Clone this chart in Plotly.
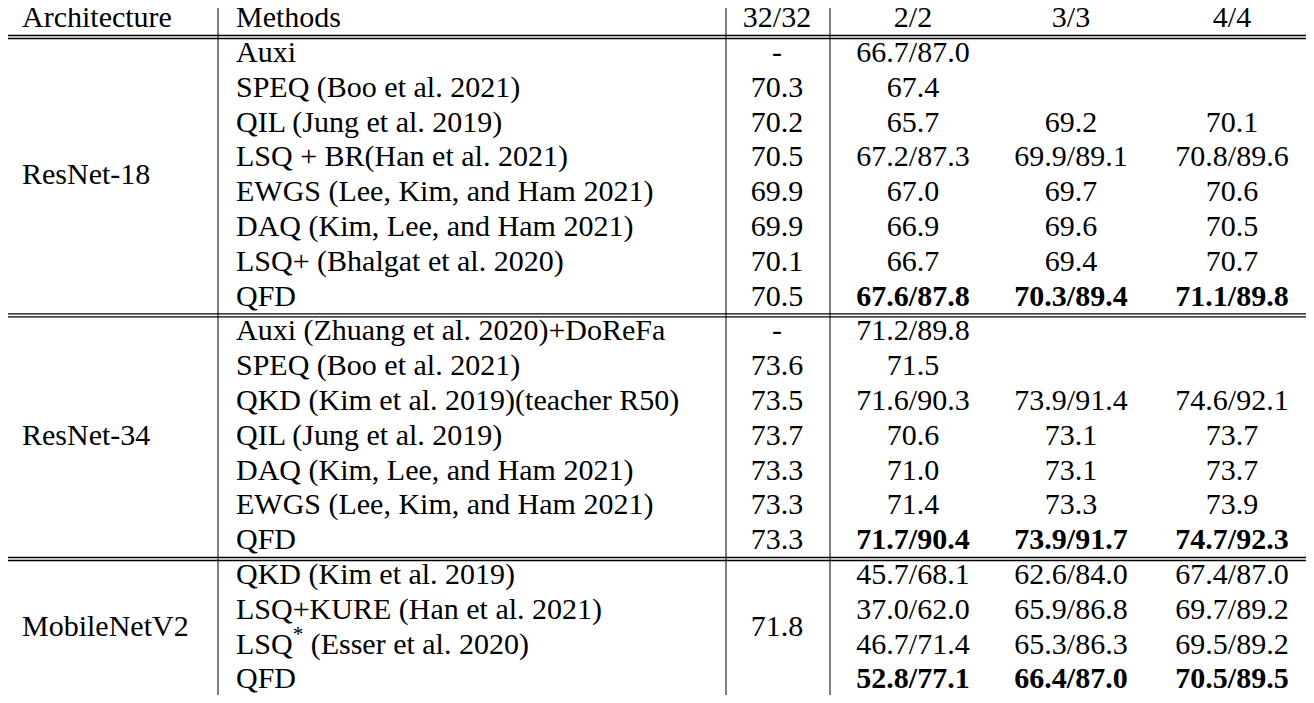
import plotly.graph_objects as go

headers = ["Architecture", "Methods", "32/32", "2/2", "3/3", "4/4"]
architectures = ["ResNet-18", "ResNet-34", "MobileNetV2"]
methods = [
    ["Auxi", "SPEQ (Boo et al. 2021)", "QIL (Jung et al. 2019)", "LSQ + BR(Han et al. 2021)",
     "EWGS (Lee, Kim, and Ham 2021)", "DAQ (Kim, Lee, and Ham 2021)", "LSQ+ (Bhalgat et al. 2020)", "QFD"],
    ["Auxi (Zhuang et al. 2020)+DoReFa", "SPEQ (Boo et al. 2021)", "QKD (Kim et al. 2019)(teacher R50)",
     "QIL (Jung et al. 2019)", "DAQ (Kim, Lee, and Ham 2021)", "EWGS (Lee, Kim, and Ham 2021)", "QFD"],
    ["QKD (Kim et al. 2019)", "LSQ+KURE (Han et al. 2021)", "LSQ<sup>*</sup> (Esser et al. 2020)", "QFD"],
]
fp32 = [
    ["-", "70.3", "70.2", "70.5", "69.9", "69.9", "70.1", "70.5"],
    ["-", "73.6", "73.5", "73.7", "73.3", "73.3", "73.3"],
    ["71.8"],
]
w2 = [
    ["66.7/87.0", "67.4", "65.7", "67.2/87.3", "67.0", "66.9", "66.7", "<b>67.6/87.8</b>"],
    ["71.2/89.8", "71.5", "71.6/90.3", "70.6", "71.0", "71.4", "<b>71.7/90.4</b>"],
    ["45.7/68.1", "37.0/62.0", "46.7/71.4", "<b>52.8/77.1</b>"],
]
w3 = [
    ["", "", "69.2", "69.9/89.1", "69.7", "69.6", "69.4", "<b>70.3/89.4</b>"],
    ["", "", "73.9/91.4", "73.1", "73.1", "73.3", "<b>73.9/91.7</b>"],
    ["62.6/84.0", "65.9/86.8", "65.3/86.3", "<b>66.4/87.0</b>"],
]
w4 = [
    ["", "", "70.1", "70.8/89.6", "70.6", "70.5", "70.7", "<b>71.1/89.8</b>"],
    ["", "", "74.6/92.1", "73.7", "73.7", "73.9", "<b>74.7/92.3</b>"],
    ["67.4/87.0", "69.7/89.2", "69.5/89.2", "<b>70.5/89.5</b>"],
]

PAGE_W, PAGE_H, OFF = 1314, 703, 8
W, H = PAGE_W - 2 * OFF, PAGE_H - 2 * OFF
top, head_bot, row_h = 2, 37, 34.8
vlines = [218, 726, 830]
col_c = [777, 913, 1071, 1232]
font = dict(family="Liberation Serif", size=30, color="black")

fig = go.Figure()
shapes = []
def hline(y, w=1.3):
    shapes.append(dict(type="line", x0=0, x1=PAGE_W, y0=y, y1=y, line=dict(color="black", width=w)))

hline(top); hline(head_bot - 1.5); hline(head_bot + 1.5)
y = head_bot
texts = {"x": [], "y": [], "t": [], "pos": []}
def add(x, yy, t, pos):
    texts["x"].append(x); texts["y"].append(yy); texts["t"].append(t); texts["pos"].append(pos)

add(22, (top + head_bot) / 2, headers[0], "middle right")
add(236, (top + head_bot) / 2, headers[1], "middle right")
for c, h in zip(col_c, headers[2:]):
    add(c, (top + head_bot) / 2, h, "middle center")

for gi, arch in enumerate(architectures):
    n = len(methods[gi])
    y0 = y
    for r in range(n):
        yc = y + row_h * (r + 0.5)
        add(236, yc, methods[gi][r], "middle right")
        for c, col in zip(col_c[1:], [w2, w3, w4]):
            if col[gi][r]:
                add(c, yc, col[gi][r], "middle center")
        if len(fp32[gi]) == n:
            add(col_c[0], yc, fp32[gi][r], "middle center")
    y1 = y + row_h * n
    if len(fp32[gi]) == 1:
        add(col_c[0], (y0 + y1) / 2, fp32[gi][0], "middle center")
    add(22, (y0 + y1) / 2, arch, "middle right")
    y = y1
    if gi < 2:
        hline(y - 1.5); hline(y + 1.5)
    else:
        hline(y - 1)

for vx in vlines:
    shapes.append(dict(type="line", x0=vx, x1=vx, y0=top, y1=y, line=dict(color="black", width=1)))

fig.add_trace(go.Scatter(x=texts["x"], y=texts["y"], text=texts["t"], mode="text",
                         textposition=texts["pos"], textfont=font, hoverinfo="skip"))
fig.update_layout(width=W, height=H, margin=dict(l=0, r=0, t=0, b=0),
                  paper_bgcolor="white", plot_bgcolor="white", showlegend=False, shapes=shapes,
                  xaxis=dict(range=[OFF, OFF + W], visible=False, fixedrange=True),
                  yaxis=dict(range=[OFF + H, OFF], visible=False, fixedrange=True))
fig.write_html("out.html")
